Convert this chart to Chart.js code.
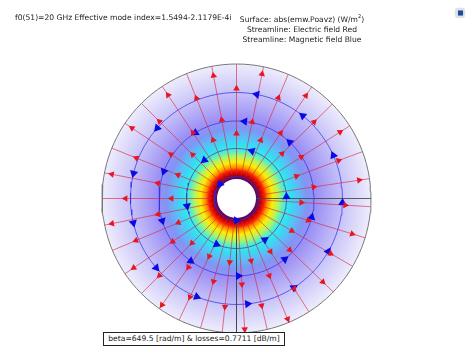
<!DOCTYPE html>
<html>
<head>
<meta charset="utf-8">
<style>
  html, body { margin: 0; padding: 0; background: #fff; }
  #wrap { position: relative; width: 474px; height: 357px; overflow: hidden; filter: blur(0.45px); }
  canvas { position: absolute; left: 0; top: 0; }
  .label { position: absolute; font: 7.6px "DejaVu Sans", sans-serif; color: #222; white-space: nowrap; }
  #freq { left: 15px; top: 13px; }
  #surface { left: 202px; width: 200px; top: 15px; text-align: center; line-height: 10px; }
  #surface sup { font-size: 5px; line-height: 0; }
  #beta { left: 103px; top: 332px; width: 180px; height: 12px; line-height: 12px; border: 1.5px solid #222; background: #fff; text-align: center; }
</style>
</head>
<body>
<div id="wrap">
  <canvas id="chart" width="474" height="357"></canvas>
  <div class="label" id="freq">f0(51)=20 GHz Effective mode index=1.5494-2.1179E-4i</div>
  <div class="label" id="surface">Surface: abs(emw.Poavz) (W/m<sup>2</sup>)<br>Streamline: Electric field Red<br>Streamline: Magnetic field Blue</div>
  <div class="label" id="beta">beta=649.5 [rad/m] &amp; losses=0.7711 [dB/m]</div>
</div>
<script src="https://cdn.jsdelivr.net/npm/chart.js@4"></script>
<script>
const holeRadius = 19.5;
const outerRadius = 134.5;

// surface colour against radius
const surfaceRadii = [19.5, 22, 25, 28, 31, 36, 42, 47, 54, 62, 70, 80, 95, 110, 134.5];
const surfaceColors = ["#5a0a66", "#7c0638", "#d00000", "#f82000", "#ff8c00", "#f8f000", "#b4f460", "#58f0c0", "#30e0f4",
  "#5cbcf8", "#7f96f4", "#9c90f4", "#b4adf7", "#cdc9f9", "#eeedfc"];

// electric field lines, degrees, with the two arrows on each
const spokeAngles = [8.5, 20.4, 32.7, 44.6, 56, 67.4, 78.4, 90, 100.6, 111.8, 123.5, 135, 146, 158, 169, 180,
  191.4, 202.7, 214, 225, 235, 244.7, 254.5, 263.9, 273.6, 283.2, 293, 302.6, 316, 329.7, 343, 356.5];
const innerArrowRadii = [78, 64, 77, 64, 79, 63, 78, 65, 80, 63, 79, 62, 79, 63, 80, 65,
  80, 63, 77, 63, 84, 64, 86, 64, 86, 64, 84, 63, 74, 64, 75, 65];
const outerArrowRadii = [124, 109, 123, 109, 124, 109, 127, 110, 125, 108, 124, 109, 126, 108, 127, 111,
  127, 109, 124, 109, 130, 109, null, 109, 131, 110, 131, 107, 120, 109, 121, 109];
const spokeStart = 24;

// magnetic field lines and the arrow angles on each
const ringRadii = [22, 50, 77.5, 106];
const ringArrowAngles = [
  [139, 270],
  [2, 72, 130, 188.7, 246.5, 304.5],
  [84, 46.6, -14, -51.5, -88.6, 233.8, 196.7, 159.5, 122],
  [79, 51.3, 24, -2.3, -30, -57.3, -84, 248, 220.8, 193.3, 166.2, 138.4],
];

// mesh seams
const seamAngles = [0, 270];

const polar = (r, deg) => ({
  x: r * Math.cos((deg * Math.PI) / 180),
  y: r * Math.sin((deg * Math.PI) / 180),
});

const circle = (r) => {
  const pts = [];
  for (let a = 0; a <= 360; a += 3) pts.push(polar(r, a));
  return pts;
};

const lineSet = (data, color, width) => ({
  data,
  showLine: true,
  borderColor: color,
  borderWidth: width,
  pointRadius: 0,
  order: 3,
});

const arrowSet = (data, rotation, color, size) => ({
  data,
  showLine: false,
  pointStyle: "triangle",
  pointRotation: rotation,
  pointRadius: size,
  pointBackgroundColor: color,
  pointBorderWidth: 0,
  order: 1,
});

const datasets = [];

seamAngles.forEach((a) => {
  datasets.push(lineSet([polar(holeRadius, a), polar(outerRadius, a)], "rgba(70,70,70,0.85)", 1));
});
datasets.push(lineSet(circle(outerRadius), "#777", 1));

spokeAngles.forEach((a) => {
  datasets.push(lineSet([polar(spokeStart, a), polar(outerRadius, a)], "rgba(220,35,60,0.62)", 1));
});
ringRadii.forEach((r) => {
  datasets.push(lineSet(circle(r), "rgba(45,45,225,0.7)", 1));
});

const arrowPts = [];
const arrowRot = [];
spokeAngles.forEach((a, i) => {
  [innerArrowRadii[i], outerArrowRadii[i]].forEach((r) => {
    if (r === null) return;
    arrowPts.push(polar(r, a));
    arrowRot.push(90 - a);
  });
});
datasets.push(arrowSet(arrowPts, arrowRot, "#e8141e", 3.8));

ringRadii.forEach((r, i) => {
  const angles = ringArrowAngles[i];
  datasets.push(arrowSet(angles.map((a) => polar(r, a)), angles.map((a) => -a), "#0a0ae6", 4.8));
});

// window icon, top right
datasets.push({
  data: [{ x: 223.5, y: 185.5 }],
  showLine: false,
  pointStyle: "rectRounded",
  pointRadius: 6,
  pointBackgroundColor: "#dde3ea",
  pointBorderWidth: 0,
  order: 1,
});
datasets.push({
  data: [{ x: 224, y: 185.5 }],
  showLine: false,
  pointStyle: "rect",
  pointRadius: 3.6,
  pointBackgroundColor: "#1c4c98",
  pointBorderWidth: 0,
  order: 0,
});

const surfacePlugin = {
  id: "surface",
  beforeDatasetsDraw(chart) {
    const { ctx, scales } = chart;
    const cx = scales.x.getPixelForValue(0);
    const cy = scales.y.getPixelForValue(0);
    const unit = scales.x.getPixelForValue(1) - cx;
    const r0 = holeRadius * unit;
    const r1 = outerRadius * unit;
    const grad = ctx.createRadialGradient(cx, cy, r0, cx, cy, r1);
    surfaceRadii.forEach((r, i) => {
      grad.addColorStop((r - holeRadius) / (outerRadius - holeRadius), surfaceColors[i]);
    });
    ctx.save();
    ctx.beginPath();
    ctx.arc(cx, cy, r1, 0, Math.PI * 2);
    ctx.arc(cx, cy, r0, 0, Math.PI * 2, true);
    ctx.fillStyle = grad;
    ctx.fill();
    ctx.restore();
  },
};

// the chart insets its area by the largest point radius (6), so the ranges cover 462 x 345
new Chart(document.getElementById("chart").getContext("2d"), {
  type: "scatter",
  data: { datasets },
  options: {
    responsive: false,
    animation: false,
    layout: { padding: 0 },
    plugins: { legend: { display: false }, tooltip: { enabled: false } },
    scales: {
      x: { type: "linear", display: false, min: -230.5, max: 231.5 },
      y: { type: "linear", display: false, min: -152.5, max: 192.5 },
    },
  },
  plugins: [surfacePlugin],
});
</script>
</body>
</html>
